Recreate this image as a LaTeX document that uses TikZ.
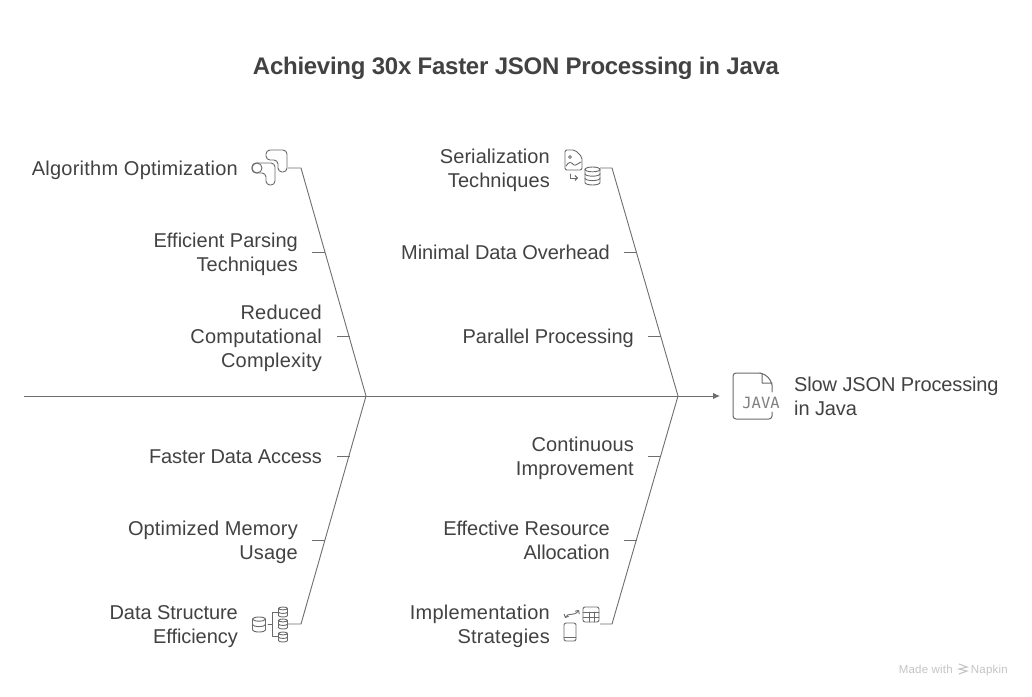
\documentclass[tikz,border=0pt]{standalone}
\usepackage{fontspec}
\setmainfont{Liberation Sans}
\setmonofont{DejaVu Sans Mono}
\usetikzlibrary{arrows.meta}
\definecolor{ink}{HTML}{424242}
\definecolor{bone}{HTML}{6E6E6E}
\definecolor{icon}{HTML}{6A6A6A}
\definecolor{mark}{HTML}{C4C4C4}
% \cyl{centre x}{top y}{bottom y}{radius}{number of bands}
\newcommand{\cyl}[5]{%
  \pgfmathsetmacro{\cry}{#4*.32}%
  \draw[iconline] (#1-#4,#2+\cry) -- (#1-#4,#3-\cry) arc[start angle=180,end angle=360,x radius=#4,y radius=-\cry] -- (#1+#4,#2+\cry);
  \draw[iconline] (#1,#2+\cry) ellipse[x radius=#4,y radius=\cry];
  \ifnum#5>1
    \pgfmathsetmacro{\cstep}{(#3-#2-2*\cry)/#5}%
    \foreach \ci in {1,...,\numexpr#5-1\relax}{
      \draw[iconline] (#1-#4,#2+\cry+\ci*\cstep) arc[start angle=180,end angle=360,x radius=#4,y radius=-\cry];
    }
  \fi
}
\tikzset{
  x=1pt,y=-1pt,
  itemtext/.style={font=\fontsize{20}{24}\selectfont\addfontfeatures{LetterSpace=#1},text=ink,inner sep=0pt,align=right,anchor=east,yshift=-2.2pt,execute at begin node=\strut,execute at end node=\strut},
  itemtext/.default=0.6,
  itemright/.style={itemtext=#1,align=left,anchor=west},
  multiline/.style={yshift=-2pt},
  titletext/.style={font=\fontsize{24}{30}\selectfont\bfseries\addfontfeatures{LetterSpace=-1.15},text=ink,inner sep=0pt,anchor=base},
  boneline/.style={draw=bone,line width=.9pt,line join=round},
  iconline/.style={draw=icon,line width=.9pt,line cap=round,line join=round},
  credit/.style={font=\fontsize{11.5}{13}\selectfont\addfontfeatures{LetterSpace=2},text=mark,inner sep=0pt,anchor=base east}
}
\begin{document}
\begin{tikzpicture}
\useasboundingbox[fill=white] (0,0) rectangle (1032,696);
\node[titletext] (title) at (516,74) {Achieving 30x Faster JSON Processing in Java};
% spine
\coordinate (tail) at (24,396);
\coordinate (head) at (720,396);
\coordinate (j1) at (366,396);
\coordinate (j2) at (678,396);
\draw[boneline,-{Latex[length=7pt,width=6.5pt]}] (tail) -- (head);
% bones
\coordinate (a0) at (288,168); \coordinate (a1) at (301,168);
\coordinate (b0) at (600,168); \coordinate (b1) at (612,168);
\coordinate (c0) at (288,624); \coordinate (c1) at (301,624);
\coordinate (d0) at (600,624); \coordinate (d1) at (612,624);
\draw[boneline] (a0) -- (a1) -- (j1) -- (c1) -- (c0);
\draw[boneline] (b0) -- (b1) -- (j2) -- (d1) -- (d0);
% ticks
\foreach \n/\xa/\ya in {t1/312/252,t2/337/336,t3/337/456,t4/312/540,t5/624/252,t6/648/336,t7/648/456,t8/624/540}{
  \coordinate (\n a) at (\xa,\ya);
  \coordinate (\n b) at (\xa+13,\ya);
  \draw[boneline] (\n a) -- (\n b);
}
% labels
\node[itemtext=1.2] (l1) at (238,168) {Algorithm Optimization};
\node[itemtext=0,multiline] (l2) at (298,252) {Efficient Parsing\\Techniques};
\node[itemtext=1.0,multiline] (l3) at (322,336) {Reduced\\Computational\\Complexity};
\node[itemtext=-0.6] (l4) at (322,456) {Faster Data Access};
\node[itemtext=0.7,multiline] (l5) at (298,540) {Optimized Memory\\Usage};
\node[itemtext=-0.3,multiline] (l6) at (238,624) {Data Structure\\Efficiency};
\node[itemtext=0.4,multiline] (l7) at (550,168) {Serialization\\Techniques};
\node[itemtext=-0.4] (l8) at (610,252) {Minimal Data Overhead};
\node[itemtext=0] (l9) at (634,336) {Parallel Processing};
\node[itemtext=0.6,multiline] (l10) at (634,456) {Continuous\\Improvement};
\node[itemtext=-0.3,multiline] (l11) at (610,540) {Effective Resource\\Allocation};
\node[itemtext=1.2,multiline] (l12) at (550,624) {Implementation\\Strategies};
\node[itemright=-0.7,multiline] (l13) at (794,396) {Slow JSON Processing\\in Java};
% icon: algorithm
\draw[iconline,rounded corners=4pt] (266,150) -- (287,150) -- (287,172) -- (278,172) -- (278,160) -- (266,160) -- cycle;
\draw[iconline,rounded corners=4pt] (252,163) -- (275,163) -- (275,185) -- (266,185) -- (266,173) -- (252,173) -- cycle;
\draw[iconline] (257,168) ellipse[x radius=5,y radius=5];
% icon: serialization
\draw[iconline,rounded corners=2pt] (565,150) -- (575,150) -- (582,157) -- (582,170) -- (565,170) -- cycle;
\draw[iconline] (570,157) circle[radius=1.4];
\draw[iconline] (566,166) .. controls (569,161) and (571,162) .. (574,165) .. controls (576,166) and (578,163) .. (581,162);
\draw[iconline,-{Straight Barb[length=2.5pt,width=5pt]}] (570,174) -- (570,178) -- (578,178);
\cyl{592.5}{167}{185}{7.5}{3}
% icon: data structure
\cyl{259}{617}{632}{6.5}{2}
\coordinate (ds1) at (268,624);
\coordinate (ds2) at (272,624);
\draw[iconline] (ds1) -- (ds2);
\draw[iconline] (278,612) -- (272,612) -- (272,636) -- (278,636);
\cyl{283}{607}{617}{4.5}{2}
\cyl{283}{619}{629}{4.5}{2}
\cyl{283}{632}{642}{4.5}{2}
% icon: implementation
\draw[iconline,rounded corners=2pt] (583,607) rectangle (599,622);
\draw[iconline] (583,612) -- (599,612) (583,617) -- (599,617) (589,612) -- (589,622) (594,612) -- (594,622);
\draw[iconline,{Straight Barb[length=2.5pt,width=5pt]}-{Straight Barb[length=2.5pt,width=5pt]}] (565,618) .. controls (568,612) and (574,617) .. (579,610);
\draw[iconline,rounded corners=2pt] (564,623) rectangle (576,641);
\draw[iconline] (564,637) -- (576,637);
% icon: java file
\draw[iconline,rounded corners=3pt,line width=1pt] (772,412) -- (772,419) -- (733,419) -- (733,373) -- (760,373);
\draw[iconline,line width=1pt] (772,392) -- (772,385) .. controls (771,379) and (766,374) .. (760,373) (762,374) -- (762,383) -- (772,383);
\node[font=\fontsize{15.5}{15}\selectfont\ttfamily,text=icon!85,inner sep=0pt] (java) at (761,403) {JAVA};
% credit
\node[credit] (made) at (953,673) {Made with};
\node[credit] (napkin) at (1008,673) {Napkin};
\draw[draw=mark,line width=1.1pt] (959,664) -- (967,667) -- (959,669) -- (967,671) -- (959,674);
\end{tikzpicture}
\end{document}
